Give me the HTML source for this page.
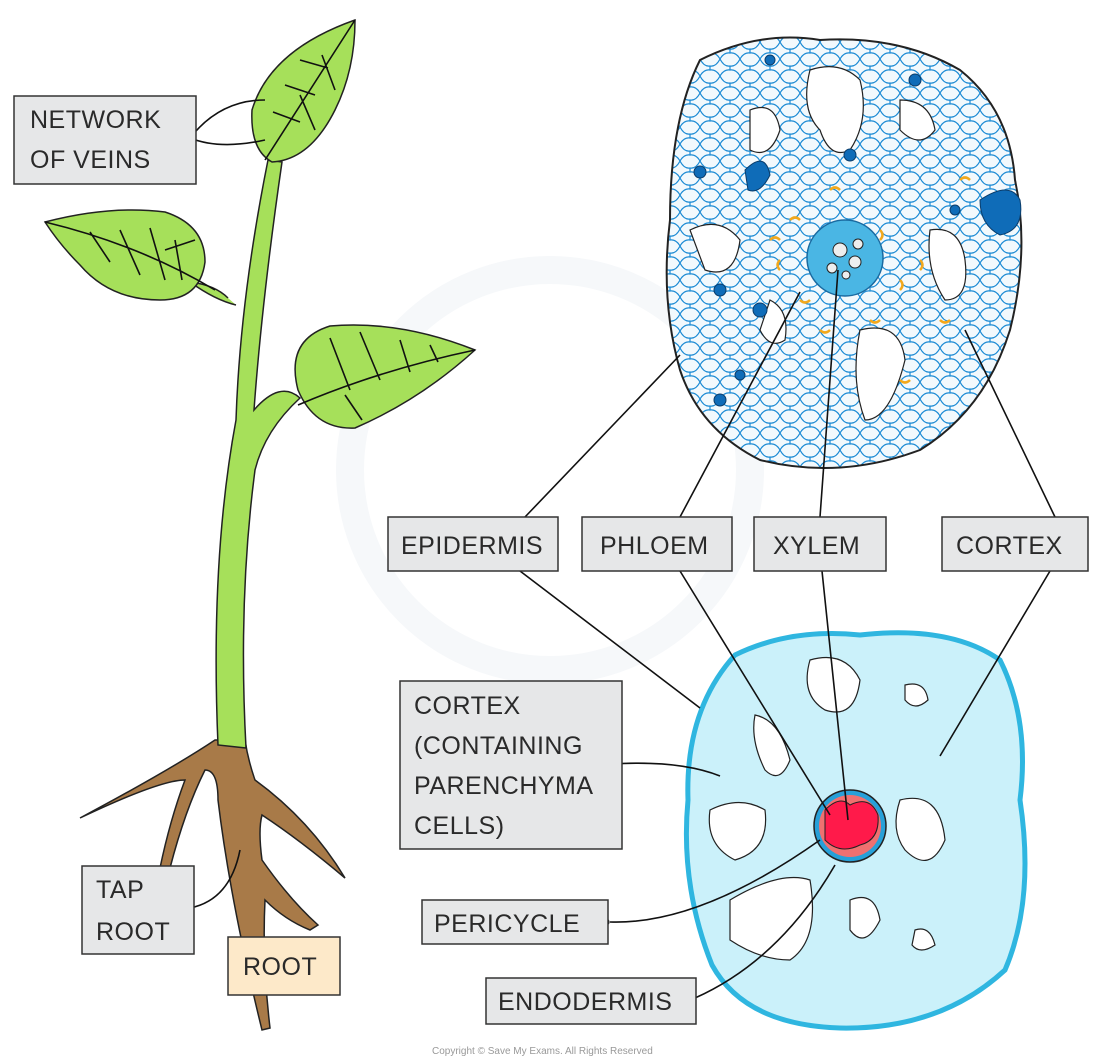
<!DOCTYPE html>
<html><head><meta charset="utf-8"><style>
html,body{margin:0;padding:0;background:#fff;}
svg{display:block;}
text{font-family:"Liberation Sans",sans-serif;font-size:25px;fill:#2a2a2a;letter-spacing:0.5px;}
.box{fill:#e6e7e8;stroke:#333;stroke-width:1.5;}
.ln{stroke:#111;stroke-width:1.6;fill:none;}
</style></head><body>
<svg width="1100" height="1064" viewBox="0 0 1100 1064" xmlns="http://www.w3.org/2000/svg">
<defs>
<pattern id="cells" width="20" height="17" patternUnits="userSpaceOnUse">
<rect width="20" height="17" fill="#f2f9fd"/>
<path d="M0 8 Q4 1 10 2 Q16 1 20 8 M0 8 Q4 16 10 15 Q16 16 20 8 M10 2 L10 -2 M10 15 L10 19" stroke="#1a8ad4" stroke-width="1.2" fill="none"/>
</pattern>
</defs>

<!-- watermark -->
<circle cx="550" cy="470" r="200" fill="none" stroke="#f6f8fa" stroke-width="28"/>

<!-- roots -->
<g fill="#a87a48" stroke="#222" stroke-width="1.5">
<path d="M215 740 Q170 770 80 818 Q160 780 185 780 Q170 820 160 868 L170 868 Q185 810 205 770 Q218 770 218 800 Q230 900 262 1030 L270 1028 Q262 960 265 900 Q285 920 310 930 L318 925 Q290 900 262 860 Q258 830 262 815 Q300 840 345 878 Q310 820 255 780 Q248 760 245 740 Z"/>
</g>
<!-- stem -->
<path d="M218 745 Q210 560 236 420 Q240 300 268 160 L282 162 Q262 300 254 410 Q280 380 300 398 Q265 430 255 470 Q238 600 246 748 Z" fill="#a6e05a" stroke="#222" stroke-width="1.5"/>
<path d="M228 298 Q215 285 190 282 Q215 300 236 305" fill="#a6e05a" stroke="#222" stroke-width="1.5"/>
<!-- leaves -->
<g fill="#a6e05a" stroke="#222" stroke-width="1.5">
<path d="M355 20 Q270 50 252 110 Q250 150 272 162 Q310 160 335 110 Q355 70 355 20 Z"/>
<path d="M45 222 Q110 205 165 212 Q205 225 205 262 Q200 300 160 300 Q110 300 80 265 Q60 245 45 222 Z"/>
<path d="M475 350 Q400 320 330 326 Q285 340 298 390 Q315 430 355 428 Q420 400 475 350 Z"/>
</g>
<g class="ln" stroke-width="1.1">
<path d="M355 20 Q310 90 265 160 M285 85 L315 95 M273 112 L300 122 M300 60 L328 68 M322 55 L335 90 M300 95 L315 130"/>
<path d="M45 222 Q140 245 215 290 M90 232 L110 262 M120 230 L140 275 M150 228 L165 280 M175 240 L182 280 M165 250 L195 240"/>
<path d="M475 350 Q380 370 298 405 M330 338 L350 390 M360 332 L380 380 M400 340 L410 372 M345 395 L362 420 M430 345 L438 362"/>
</g>

<!-- top cross-section -->
<path d="M700 60 Q760 30 820 40 Q900 35 960 70 Q1010 110 1015 180 Q1030 250 1010 330 Q985 410 920 450 Q840 480 760 460 Q700 430 680 370 Q660 300 670 220 Q670 120 700 60 Z" fill="url(#cells)" stroke="#222" stroke-width="2"/>
<g fill="#fff" stroke="#222" stroke-width="1.2">
<path d="M810 70 Q840 60 860 80 Q870 120 850 150 Q830 160 820 130 Q800 110 810 70 Z"/>
<path d="M750 110 Q775 100 780 130 Q770 160 750 150 Z"/>
<path d="M690 230 Q720 215 740 240 Q735 280 705 270 Z"/>
<path d="M930 230 Q960 225 965 260 Q970 300 945 300 Q925 270 930 230 Z"/>
<path d="M860 330 Q900 320 905 360 Q890 420 865 420 Q850 380 860 330 Z"/>
<path d="M770 300 Q790 310 785 340 Q770 350 760 330 Z"/>
<path d="M900 100 Q930 100 935 130 Q920 150 900 130 Z"/>
</g>
<g fill="#0f6cb8" stroke="#0a3c6a" stroke-width="1">
<path d="M980 200 Q1010 180 1020 200 Q1025 230 1000 235 Q980 225 980 200 Z"/>
<path d="M745 170 Q765 150 770 175 Q760 195 748 190 Z"/>
<circle cx="700" cy="172" r="6"/><circle cx="760" cy="310" r="7"/><circle cx="720" cy="400" r="6"/>
<circle cx="850" cy="155" r="6"/><circle cx="915" cy="80" r="6"/><circle cx="770" cy="60" r="5"/>
<circle cx="740" cy="375" r="5"/><circle cx="720" cy="290" r="6"/><circle cx="955" cy="210" r="5"/>
</g>
<circle cx="845" cy="258" r="38" fill="#4ab6e4" stroke="#1a6aa0" stroke-width="1.5"/>
<g fill="#eee" stroke="#222" stroke-width="1"><circle cx="840" cy="250" r="7"/><circle cx="855" cy="262" r="6"/><circle cx="832" cy="268" r="5"/><circle cx="858" cy="244" r="5"/><circle cx="846" cy="275" r="4"/></g>
<g stroke="#f2a81c" stroke-width="2.5" fill="none">
<path d="M790 220 q5 -5 10 0 M880 230 q5 5 0 10 M800 300 q5 5 10 0 M900 290 q5 -5 0 -10 M830 190 q5 -5 10 0 M870 320 q5 5 10 0 M780 260 q-5 5 0 10 M920 260 q5 5 0 10 M770 240 q5 -5 10 0 M940 320 q5 5 10 0 M900 380 q5 5 10 0 M820 330 q5 5 10 0 M960 180 q5 -5 10 0"/>
</g>

<!-- bottom cross-section -->
<path d="M735 655 Q790 628 860 635 Q950 625 1000 660 Q1030 720 1020 800 Q1035 900 1005 970 Q940 1030 840 1028 Q745 1025 712 965 Q680 885 688 800 Q685 710 735 655 Z" fill="#cbf1fa" stroke="#2fb6e0" stroke-width="5"/>
<g fill="#fff" stroke="#222" stroke-width="1.2">
<path d="M810 660 Q845 650 860 680 Q855 720 825 710 Q800 695 810 660 Z"/>
<path d="M905 685 Q925 680 928 700 Q915 712 905 700 Z"/>
<path d="M755 715 Q780 720 790 760 Q780 785 765 770 Q750 740 755 715 Z"/>
<path d="M710 810 Q740 795 765 810 Q770 850 735 860 Q705 845 710 810 Z"/>
<path d="M900 800 Q940 790 945 840 Q930 875 905 850 Q890 830 900 800 Z"/>
<path d="M730 900 Q780 870 810 880 Q820 940 790 960 Q760 960 730 940 Z"/>
<path d="M850 900 Q875 890 880 920 Q865 950 850 930 Z"/>
<path d="M915 930 Q930 925 935 945 Q920 955 912 945 Z"/>
</g>
<circle cx="850" cy="826" r="36" fill="#27a0d8" stroke="#222" stroke-width="1.5"/>
<circle cx="850" cy="826" r="31" fill="#f07070"/>
<path d="M825 810 Q840 795 850 805 Q870 795 878 815 Q880 840 860 845 Q840 855 825 840 Z" fill="#ff1a4a" stroke="#222" stroke-width="1"/>

<!-- connector lines -->
<g class="ln">
<path d="M525 517 L680 355 M680 517 L800 292 M820 517 L838 270 M1055 517 L965 330"/>
<path d="M520 571 L700 708 M680 571 L830 815 M822 571 L848 820 M1050 571 L940 756"/>
<path d="M612 764 Q680 760 720 776 M610 922 Q700 925 820 840 M695 998 Q780 960 835 865"/>
<path d="M190 138 Q220 100 265 100 M190 138 Q220 150 265 140 M190 908 Q230 900 240 850"/>
</g>
<g fill="#fff" stroke="#111" stroke-width="1.2"><circle cx="190" cy="138" r="3"/><circle cx="190" cy="908" r="3"/><circle cx="612" cy="764" r="3"/><circle cx="606" cy="922" r="3"/><circle cx="693" cy="998" r="3"/></g>

<!-- labels -->
<rect class="box" x="14" y="96" width="182" height="88"/>
<text x="30" y="128">NETWORK</text><text x="30" y="168">OF VEINS</text>
<rect class="box" x="82" y="866" width="112" height="88"/>
<text x="96" y="898">TAP</text><text x="96" y="940">ROOT</text>
<rect x="228" y="937" width="112" height="58" fill="#fde9c9" stroke="#333" stroke-width="1.5"/>
<text x="243" y="975">ROOT</text>
<rect class="box" x="388" y="517" width="170" height="54"/><text x="401" y="554">EPIDERMIS</text>
<rect class="box" x="582" y="517" width="150" height="54"/><text x="600" y="554">PHLOEM</text>
<rect class="box" x="754" y="517" width="132" height="54"/><text x="773" y="554">XYLEM</text>
<rect class="box" x="942" y="517" width="146" height="54"/><text x="956" y="554">CORTEX</text>
<rect class="box" x="400" y="681" width="222" height="168"/>
<text x="414" y="714">CORTEX</text><text x="414" y="754">(CONTAINING</text><text x="414" y="794">PARENCHYMA</text><text x="414" y="834">CELLS)</text>
<rect class="box" x="422" y="900" width="186" height="44"/><text x="434" y="932">PERICYCLE</text>
<rect class="box" x="486" y="978" width="210" height="46"/><text x="498" y="1010">ENDODERMIS</text>
<text x="432" y="1054" style="font-size:10px;fill:#999;letter-spacing:0">Copyright © Save My Exams. All Rights Reserved</text>
</svg>
</body></html>
